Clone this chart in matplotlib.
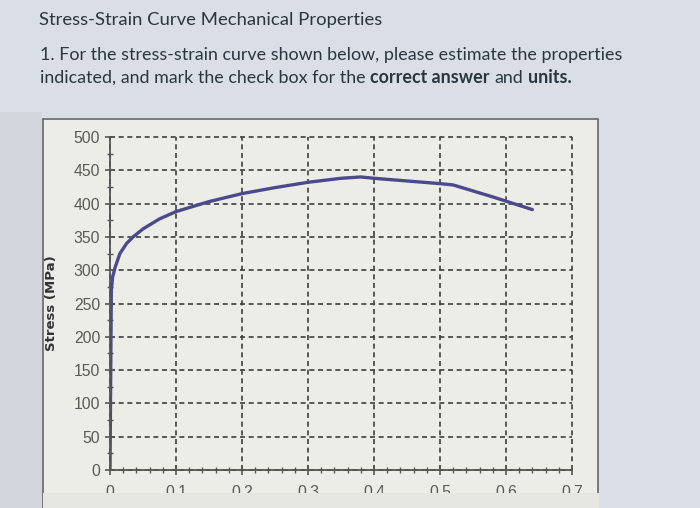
import matplotlib.pyplot as plt
from matplotlib.patches import Rectangle
from matplotlib.ticker import MultipleLocator

# strain (mm/mm) and stress (MPa)
strain = [0, 0.002, 0.004, 0.008, 0.015, 0.025, 0.035, 0.05, 0.075, 0.1, 0.15,
          0.2, 0.25, 0.3, 0.35, 0.38, 0.4, 0.45, 0.5, 0.52, 0.58, 0.64]
stress = [0, 270, 290, 305, 325, 340, 350, 362, 377, 388, 403,
          415, 424, 432, 438, 440, 438, 434, 430, 428, 410, 391]

x_ticks = [0, 0.1, 0.2, 0.3, 0.4, 0.5, 0.6, 0.7]
x_labels = ['0', '0.1', '0.2', '0.3', '0.4', '0.5', '0.6', '0.7']
y_ticks = [0, 50, 100, 150, 200, 250, 300, 350, 400, 450, 500]

title = 'Stress-Strain Curve Mechanical Properties'
line1 = '1. For the stress-strain curve shown below, please estimate the properties'
line2 = [('indicated, and mark the check box for the', 'normal'),
         ('correct answer', 'bold'),
         ('and', 'normal'),
         ('units.', 'bold')]

W, H = 700, 508
fig = plt.figure(figsize=(7, 5.08), dpi=100)
fig.patch.set_facecolor('#dadee6')

# page panel that holds the chart (its bottom runs off the screen)
fig.add_artist(Rectangle((43 / W, -0.05), 555 / W, 0.05 + 1 - 119 / H,
                         transform=fig.transFigure, facecolor='#ecede6',
                         edgecolor='#666666', lw=1.2, zorder=-1))
# slightly darker strip on the left edge of the photo
fig.add_artist(Rectangle((0, 0), 42 / W, 1 - 112 / H, transform=fig.transFigure,
                         facecolor='#d2d5db', edgecolor='none', zorder=-2))

ax = fig.add_axes([110 / W, 1 - 470 / H, (572 - 110) / W, (470 - 137) / H])
ax.patch.set_alpha(0)
ax.plot(strain, stress, color='#4b4a8c', lw=2.4, solid_capstyle='round', zorder=3)

ax.set_xlim(0, 0.7)
ax.set_ylim(0, 500)
ax.set_xticks(x_ticks)
ax.set_xticklabels(x_labels)
ax.set_yticks(y_ticks)
ax.xaxis.set_minor_locator(MultipleLocator(0.02))
ax.yaxis.set_minor_locator(MultipleLocator(25))

ax.grid(True, which='major', color='#3f3f3f', lw=1.2, linestyle=(0, (3, 2.2)))
for gl in ax.get_xgridlines() + ax.get_ygridlines():
    gl.set_clip_on(False)

for s in ['top', 'right']:
    ax.spines[s].set_visible(False)
for s in ['left', 'bottom']:
    ax.spines[s].set_color('#555555')
    ax.spines[s].set_linewidth(1.3)
    ax.spines[s].set_zorder(4)

ax.tick_params(which='major', direction='inout', length=7, width=1.2, color='#555555',
               labelcolor='#5a5a5a', labelsize=11.3)
ax.tick_params(which='minor', direction='inout', length=4, width=1, color='#555555')
ax.tick_params(axis='y', pad=3.5)
ax.tick_params(axis='x', pad=7)
for lab in ax.get_xticklabels() + ax.get_yticklabels():
    lab.set_fontfamily('Liberation Sans')

ax.set_ylabel('Stress (MPa)', fontsize=9.5, fontweight='bold', color='#333333',
              family='DejaVu Sans')
ax.yaxis.set_label_coords((58 - 110) / (572 - 110), 0.5)

# bottom of the screen cuts through the strain labels
fig.add_artist(Rectangle((43 / W, 0), 556 / W, 1 - 493 / H, transform=fig.transFigure,
                         facecolor='#e6e7e3', edgecolor='none', zorder=10))

# header text
txt_color = '#2b3640'
fig.text(39 / W, 1 - 25 / H, title, fontsize=13.3, family='Lato', color=txt_color,
         va='baseline', ha='left')
fig.text(40 / W, 1 - 60 / H, line1, fontsize=12.9, family='Lato', color=txt_color,
         va='baseline', ha='left')

r = fig.canvas.get_renderer()
probe = fig.text(0, 0, 'a a', fontsize=12.9, family='Lato')
w_aa = probe.get_window_extent(renderer=r).width
probe.set_text('aa')
space = w_aa - probe.get_window_extent(renderer=r).width
probe.remove()

x = 40
for piece, wt in line2:
    t = fig.text(x / W, 1 - 83 / H, piece, fontsize=12.9, family='Lato', fontweight=wt,
                 color=txt_color, va='baseline', ha='left')
    x += t.get_window_extent(renderer=r).width + space

fig.savefig('out.png', dpi=100, facecolor=fig.get_facecolor())
